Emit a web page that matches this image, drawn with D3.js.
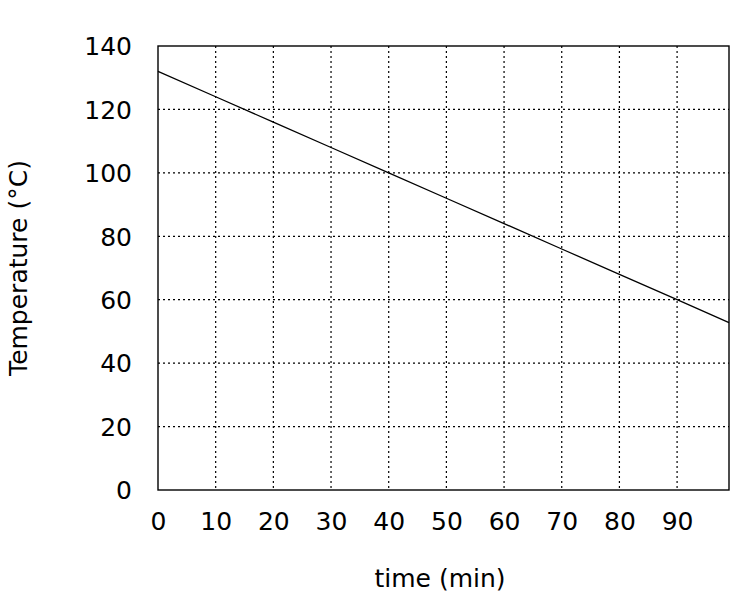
<!DOCTYPE html>
<html><head><meta charset="utf-8">
<script src="https://cdn.jsdelivr.net/npm/d3@7"></script>
<style>body{margin:0;background:#fff}</style></head>
<body><svg id="c" width="750" height="598"></svg>
<script>
const times = [0,10,20,30,40,50,60,70,80,90,99];
const temps = [132,124,116,108,100,92,84,76,68,60,52.8];
const xTicks = [0,10,20,30,40,50,60,70,80,90];
const yTicks = [0,20,40,60,80,100,120,140];
const svg = d3.select("#c");
const L=158,R=729,T=46,B=490;
const x = d3.scaleLinear().domain([0,99]).range([L,R]);
const y = d3.scaleLinear().domain([0,140]).range([B,T]);
const font = "DejaVu Sans, sans-serif";
svg.append("g").selectAll("line").data(xTicks.slice(1)).join("line")
  .attr("x1",d=>x(d)).attr("x2",d=>x(d)).attr("y1",T).attr("y2",B)
  .attr("stroke","#000").attr("stroke-width",1.2).attr("stroke-dasharray","2,3");
svg.append("g").selectAll("line").data(yTicks.slice(1,-1)).join("line")
  .attr("y1",d=>y(d)).attr("y2",d=>y(d)).attr("x1",L).attr("x2",R)
  .attr("stroke","#000").attr("stroke-width",1.2).attr("stroke-dasharray","2,3");
svg.append("rect").attr("x",L).attr("y",T).attr("width",R-L).attr("height",B-T)
  .attr("fill","none").attr("stroke","#000").attr("stroke-width",1.4);
const xa = svg.append("g").attr("transform",`translate(0,${B})`)
  .call(d3.axisBottom(x).tickValues(xTicks).tickSize(0).tickPadding(22));
const ya = svg.append("g").attr("transform",`translate(${L},0)`)
  .call(d3.axisLeft(y).tickValues(yTicks).tickSize(0).tickPadding(26));
[xa,ya].forEach(a=>{a.select(".domain").remove();a.selectAll("text").attr("font-family",font).attr("font-size",25).attr("fill","#000");});
ya.selectAll("text").attr("dy","0.35em");
svg.append("path").datum(times.map((t,i)=>[t,temps[i]]))
  .attr("d",d3.line().x(d=>x(d[0])).y(d=>y(d[1])))
  .attr("fill","none").attr("stroke","#000").attr("stroke-width",1.3);
svg.append("text").attr("x",440).attr("y",587).attr("text-anchor","middle")
  .attr("font-family",font).attr("font-size",25).text("time (min)");
svg.append("text").attr("transform",`translate(27,${268}) rotate(-90)`).attr("text-anchor","middle")
  .attr("font-family",font).attr("font-size",25).text("Temperature (°C)");
</script></body></html>
